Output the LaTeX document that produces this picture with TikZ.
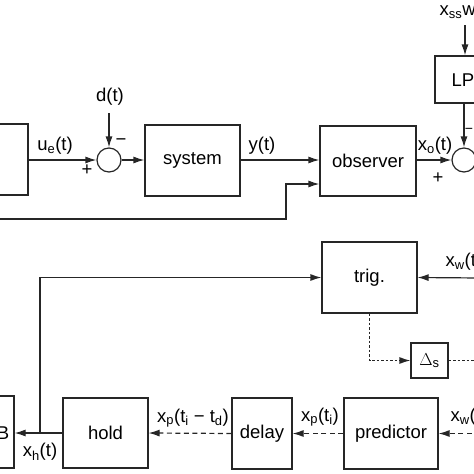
\documentclass[tikz,border=0pt]{standalone}
\usepackage{fontspec}
\setmainfont{Liberation Sans}
\usetikzlibrary{arrows.meta,calc}
\begin{document}
\begin{tikzpicture}[x=1pt,y=-1pt,
  line width=1.2pt, draw=black!85,
  >={Latex[length=11pt,width=7pt]},
  font=\fontsize{18.5}{21}\selectfont,
  blk/.style={draw=black!85,line width=1.2pt,minimum width=#1,inner sep=0pt},
  sumc/.style={draw=black!85,line width=1.2pt,circle,minimum size=24pt,inner sep=0pt},
  lbl/.style={inner sep=0pt},
  dashln/.style={dash pattern=on 5pt off 3.5pt},
  dotln/.style={dash pattern=on 2.5pt off 2pt}]
\useasboundingbox (0,0) rectangle (474,474);
\clip (0,0) rectangle (474,474);
% top row
\node[blk=60pt,minimum height=71pt] (lt) at (-2,159.5) {};
\node[sumc] (c1) at (109,160) {};
\node[blk=95pt,minimum height=71pt] (sys) at (192.5,160.5) {system};
\node[blk=96pt,minimum height=70pt] (obs) at (368,161) {observer};
\node[sumc] (c2) at (464,160) {};
\node[blk=60pt,minimum height=47pt] (lp) at (465,79.5) {};
\node[lbl,anchor=west] (lptext) at (451,80) {LP};
\node[lbl,anchor=west] (xss) at (439,12) {x\textsubscript{ss}w};
\coordinate (dtop) at (109,113);
\coordinate (xsstop) at (465,25);
\coordinate (fbl) at (-5,219);
\coordinate (fbc) at (286,219);
% labels top
\node[lbl] (ue) at (55,146) {u\textsubscript{e}(t)};
\node[lbl] (dt) at (110,97) {d(t)};
\node[lbl] (m1) at (121,142) {\textminus};
\node[lbl] (p1) at (87,170) {+};
\node[lbl] (yt) at (262,146) {y(t)};
\node[lbl] (xo) at (435,146) {x\textsubscript{o}(t)};
\node[lbl] (p2) at (438,178) {+};
\node[lbl,font=\fontsize{14}{16}\selectfont] (m2) at (469,131) {\textminus};
% top connectors
\draw[->] (lt.east |- c1.west) -- (c1.west);
\draw[->] (dtop) -- (c1.north);
\draw[->] (c1.east) -- (sys.west |- c1.east);
\draw[->] (sys.east |- c1.east) -- (obs.west |- c1.east);
\draw[->] (fbl) -- (fbc) |- ([yshift=-23pt]obs.west);
\draw[->] (obs.east |- c2.west) -- (c2.west);
\draw[->] (xsstop) -- (lp.north -| xsstop);
\draw[->] (lp.south -| c2.north) -- (c2.north);
% bottom row
\node[blk=95pt,minimum height=71pt] (trig) at (369.5,277.5) {trig.};
\node[blk=37pt,minimum height=35pt] (ds) at (429.5,360.5) {$\Delta$\textsubscript{s}};
\node[blk=94pt,minimum height=71pt] (pred) at (391,433.5) {predictor};
\node[blk=60pt,minimum height=71pt] (delay) at (262,433.5) {delay};
\node[blk=85pt,minimum height=70pt] (hold) at (105.5,433) {hold};
\node[blk=60pt,minimum height=72pt] (lb) at (-16,432) {};
\node[lbl] (lbtext) at (3,433) {B};
\coordinate (br) at (40,433);
\coordinate (xwr) at (480,278);
\coordinate (dsr) at (480,360.5);
\coordinate (xwr2) at (480,433.5);
\node[lbl,anchor=west] (xw1) at (445,262) {x\textsubscript{w}(t};
\node[lbl,anchor=west] (xw2) at (450,417) {x\textsubscript{w}(};
\node[lbl] (xptd) at (193,418) {x\textsubscript{p}(t\textsubscript{i} \textminus{} t\textsubscript{d})};
\node[lbl] (xpti) at (320,417) {x\textsubscript{p}(t\textsubscript{i})};
\node[lbl] (xh) at (40,452) {x\textsubscript{h}(t)};
% bottom connectors
\draw[->] (hold.west) -- (lb.east |- hold.west);
\draw[->] (br) |- (trig.west);
\draw[->] (xwr) -- (trig.east);
\draw[dotln,->] (trig.south) |- (ds.west);
\draw[dotln] (ds.east) -- (dsr);
\draw[dashln,->] (xwr2) -- (pred.east);
\draw[dashln,->] (pred.west) -- (delay.east);
\draw[dashln,->] (delay.west) -- (hold.east);
\end{tikzpicture}
\end{document}
